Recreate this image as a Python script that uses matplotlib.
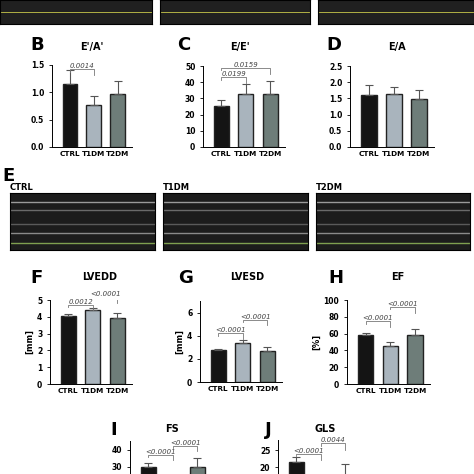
import matplotlib
matplotlib.use("Agg")
import matplotlib.pyplot as plt

groups = ["CTRL", "T1DM", "T2DM"]
colors = ["#141414", "#a9b4bd", "#6e7d79"]

ea_p_mean = [1.15, 0.76, 0.97]; ea_p_err = [0.25, 0.18, 0.23]
ee_mean = [25.5, 33.0, 33.0]; ee_err = [3.5, 6.0, 7.5]
ea_mean = [1.60, 1.65, 1.47]; ea_err = [0.32, 0.20, 0.28]
lvedd_mean = [4.05, 4.40, 3.95]; lvedd_err = [0.10, 0.15, 0.25]
lvesd_mean = [2.80, 3.40, 2.70]; lvesd_err = [0.08, 0.20, 0.30]
ef_mean = [58, 45, 58]; ef_err = [3, 5, 7]
fs_mean = [30, 22, 30]; fs_err = [2, 3, 5]
gls_mean = [21.5, 15, 16]; gls_err = [1.5, 2, 5]

W = H = 474
fig = plt.figure(figsize=(4.74, 4.74), dpi=100)

def ax_at(x0, x1, ytop, ybot):
    return fig.add_axes([x0 / W, 1 - ybot / H, (x1 - x0) / W, (ybot - ytop) / H])

def panel(x0, x1, ytop, ybot, means, errs, ylim, ticks, letter, lx, ly, title, tx, ty,
          sigs=(), ylabel=None, showx=True):
    ax = ax_at(x0, x1, ytop, ybot)
    xs = range(3)
    ax.bar(xs, means, width=0.62, color=colors, edgecolor="#222222", linewidth=1.0)
    ax.errorbar(xs, [m + e / 2 for m, e in zip(means, errs)], yerr=[[e / 2 for e in errs], [e / 2 for e in errs]],
                fmt="none", ecolor="#555555", elinewidth=0.8, capsize=3, capthick=0.8)
    ax.set_ylim(*ylim); ax.set_xlim(-0.75, 2.6)
    ax.set_yticks(ticks)
    ax.set_xticks(list(xs))
    ax.set_xticklabels(groups if showx else [], fontsize=5.2, fontweight="bold")
    ax.tick_params(axis="y", labelsize=5.5, length=2, width=0.6)
    ax.tick_params(axis="x", length=0, pad=3)
    for t in ax.get_yticklabels(): t.set_fontweight("bold")
    for s in ["top", "right"]: ax.spines[s].set_visible(False)
    for s in ["left", "bottom"]: ax.spines[s].set_linewidth(0.7)
    if ylabel: ax.set_ylabel(ylabel, fontsize=6, fontweight="bold", labelpad=2)
    for (i, j, y, txt, d) in sigs:
        ax.plot([i, i, j, j], [y - d, y, y, y - d * 2.5], color="#777777", lw=0.6)
        ax.text((i + j) / 2, y, txt, fontsize=5, style="italic", ha="center", va="bottom", color="#444444")
    fig.text(lx / W, 1 - ly / H, letter, fontsize=13, fontweight="bold", ha="left", va="center")
    fig.text(tx / W, 1 - ty / H, title, fontsize=7, fontweight="bold", ha="center", va="center")
    return ax

# top echo strips
for x0, x1 in [(0, 152), (160, 310), (318, 474)]:
    a = ax_at(x0, x1, 0, 24)
    a.set_facecolor("#202020"); a.set_xticks([]); a.set_yticks([])
    a.axhline(0.5, color="#c8c84a", lw=0.6)

panel(52, 132, 65, 147, ea_p_mean, ea_p_err, (0, 1.5), [0, 0.5, 1.0, 1.5], "B", 30, 45, "E'/A'", 92, 47,
      sigs=[(0, 1, 1.42, "0.0014", 0.04)])
panel(203, 285, 66, 147, ee_mean, ee_err, (0, 50), [0, 10, 20, 30, 40, 50], "C", 177, 45, "E/E'", 240, 47,
      sigs=[(0, 1, 43, "0.0199", 1.5), (0, 2, 49, "0.0159", 1.5)])
panel(350, 434, 66, 147, ea_mean, ea_err, (0, 2.5), [0, 0.5, 1.0, 1.5, 2.0, 2.5], "D", 326, 45, "E/A", 397, 47)

# E: M-mode images
fig.text(2 / W, 1 - 176 / H, "E", fontsize=13, fontweight="bold", va="center")
for x0, x1, lab in [(10, 155, "CTRL"), (163, 308, "T1DM"), (316, 470, "T2DM")]:
    fig.text(x0 / W, 1 - 188 / H, lab, fontsize=6, fontweight="bold", va="center")
    a = ax_at(x0, x1, 193, 250)
    a.set_facecolor("#1c1c1c"); a.set_xticks([]); a.set_yticks([])
    for yy, c in [(0.85, "#9a9a9a"), (0.7, "#6a6a6a"), (0.45, "#5a5a5a"), (0.3, "#8a8a8a"), (0.12, "#7fa050")]:
        a.axhline(yy, color=c, lw=1.0)

panel(50, 132, 300, 384, lvedd_mean, lvedd_err, (0, 5), [0, 1, 2, 3, 4, 5], "F", 30, 278, "LVEDD", 100, 277,
      sigs=[(0, 1, 4.7, "0.0012", 0.12), (1, 2, 5.15, "<0.0001", 0.12)], ylabel="[mm]")
panel(200, 282, 301, 382, lvesd_mean, lvesd_err, (0, 7), [0, 2, 4, 6], "G", 178, 278, "LVESD", 247, 277,
      sigs=[(0, 1, 4.2, "<0.0001", 0.2), (1, 2, 5.4, "<0.0001", 0.2)], ylabel="[mm]")
panel(347, 430, 300, 384, ef_mean, ef_err, (0, 100), [0, 20, 40, 60, 80, 100], "H", 328, 278, "EF", 398, 277,
      sigs=[(0, 1, 75, "<0.0001", 3), (1, 2, 92, "<0.0001", 3)], ylabel="[%]")

panel(130, 212, 441, 518, fs_mean, fs_err, (0, 45), [30, 40], "I", 110, 430, "FS", 172, 429,
      sigs=[(0, 1, 37, "<0.0001", 1.2), (1, 2, 42, "<0.0001", 1.2)], showx=False)
panel(278, 360, 440, 535, gls_mean, gls_err, (0, 28), [20, 25], "J", 265, 430, "GLS", 325, 429,
      sigs=[(0, 1, 24, "<0.0001", 0.8), (1, 2, 27, "0.0044", 0.8)], showx=False)

fig.savefig("out.png", dpi=100)
